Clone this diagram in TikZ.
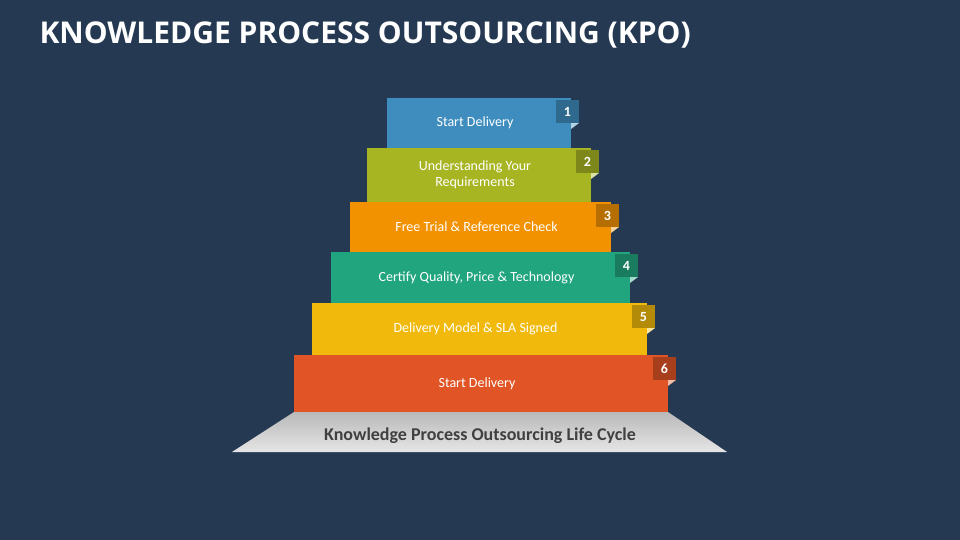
\documentclass[tikz,border=0pt]{standalone}
\usepackage{fontspec}
\setmainfont{Carlito}
\newfontfamily\titlefont{Open Sans}
\definecolor{bg}{HTML}{253A52}
\definecolor{cA}{HTML}{3E8DBE}\definecolor{dA}{HTML}{2F6A8E}
\definecolor{cB}{HTML}{A8B522}\definecolor{dB}{HTML}{7E881A}
\definecolor{cC}{HTML}{F39200}\definecolor{dC}{HTML}{B66E00}
\definecolor{cD}{HTML}{21A57F}\definecolor{dD}{HTML}{197C5F}
\definecolor{cE}{HTML}{F0B90B}\definecolor{dE}{HTML}{B48B08}
\definecolor{cF}{HTML}{E05425}\definecolor{dF}{HTML}{A83F1C}
\tikzset{
 lbl/.style={text=white,font=\fontsize{14}{16}\selectfont,align=center},
 tabnum/.style={text=white,font=\fontsize{14}{16}\selectfont\bfseries,minimum width=23pt,minimum height=23pt,inner sep=0pt,anchor=north east}
}
\newcommand{\stepbar}[8]{% name, x1,y1,x2,y2, fill, dark, text ; number uses #1
  \fill[#6] (#2,#3) rectangle (#4,#5);
  \node[lbl] (#1) at ({(#2+#4)/2-4},{(#3+#5)/2}) {#8};
  \fill[#6!40!white] (#4,{#3+25}) -- ({#4+8},{#3+25}) -- (#4,{#3+31}) -- cycle;
  \node[tabnum,fill=#7] (t#1) at ({#4+8},{#3+2}) {\the\numexpr#1\relax};
}
\begin{document}
\begin{tikzpicture}[x=1pt,y=-1pt]
\fill[bg] (0,0) rectangle (960,540);
\useasboundingbox (0,0) rectangle (960,540);
\node[anchor=west,text=white,font=\titlefont\fontsize{30}{34}\selectfont\bfseries] (title) at (36,35) {KNOWLEDGE PROCESS OUTSOURCING (KPO)};
\shade[top color=gray!55,bottom color=gray!20!white] (294,412) -- (668,412) -- (727,452) -- (232,452) -- cycle;
\node[text=black!75,font=\fontsize{18}{20}\selectfont\bfseries] (base) at (480,436) {Knowledge Process Outsourcing Life Cycle};
\stepbar{6}{294}{355}{668}{412}{cF}{dF}{Start Delivery}
\stepbar{5}{312}{303}{647}{355}{cE}{dE}{Delivery Model \& SLA Signed}
\stepbar{4}{331}{252}{630}{303}{cD}{dD}{Certify Quality, Price \& Technology}
\stepbar{3}{350}{202}{611}{252}{cC}{dC}{Free Trial \& Reference Check}
\stepbar{2}{367}{148}{591}{202}{cB}{dB}{Understanding Your\\Requirements}
\stepbar{1}{387}{98}{571}{148}{cA}{dA}{Start Delivery}
\end{tikzpicture}
\end{document}
